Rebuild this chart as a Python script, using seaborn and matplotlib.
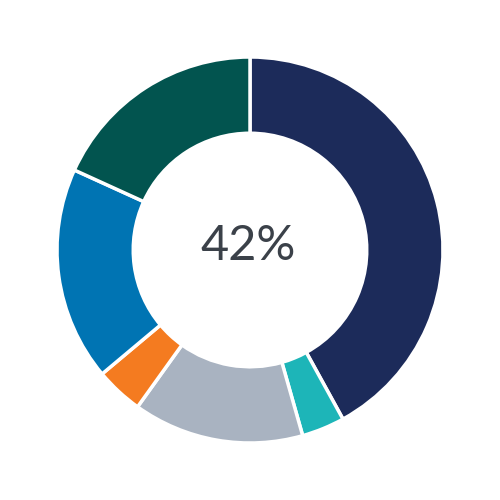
import matplotlib
matplotlib.use('Agg')
import matplotlib.pyplot as plt
import seaborn as sb

# slice shares in percent, clockwise from 12 o'clock
segments = ['Navy', 'Teal', 'Grey', 'Orange', 'Blue', 'Dark green']
shares = [42, 3.6, 14.3, 4.0, 17.9, 18.2]
colours = ['#1c2b5a', '#1db5b8', '#a9b3c1', '#f47b20', '#0074b3', '#02544f']
centre_label = '42%'

sb.set_theme(style='white')
plt.rcParams['font.family'] = ['Lato', 'DejaVu Sans']

fig = plt.figure(figsize=(5, 5), dpi=100)
ax = fig.add_axes([0, 0, 1, 1])

ax.pie(shares, colors=colours, startangle=90, counterclock=False,
       radius=1.0, wedgeprops=dict(width=0.395, edgecolor='white', linewidth=2.5))

ax.text(-0.01, 0.02, centre_label, ha='center', va='center', fontsize=35,
        color='#3b4149', fontweight='normal')

lim = 250 / 193
ax.set_xlim(-lim, lim)
ax.set_ylim(-lim, lim)
ax.set_aspect('equal')
ax.axis('off')

fig.savefig('out.png', dpi=100, facecolor='white')
